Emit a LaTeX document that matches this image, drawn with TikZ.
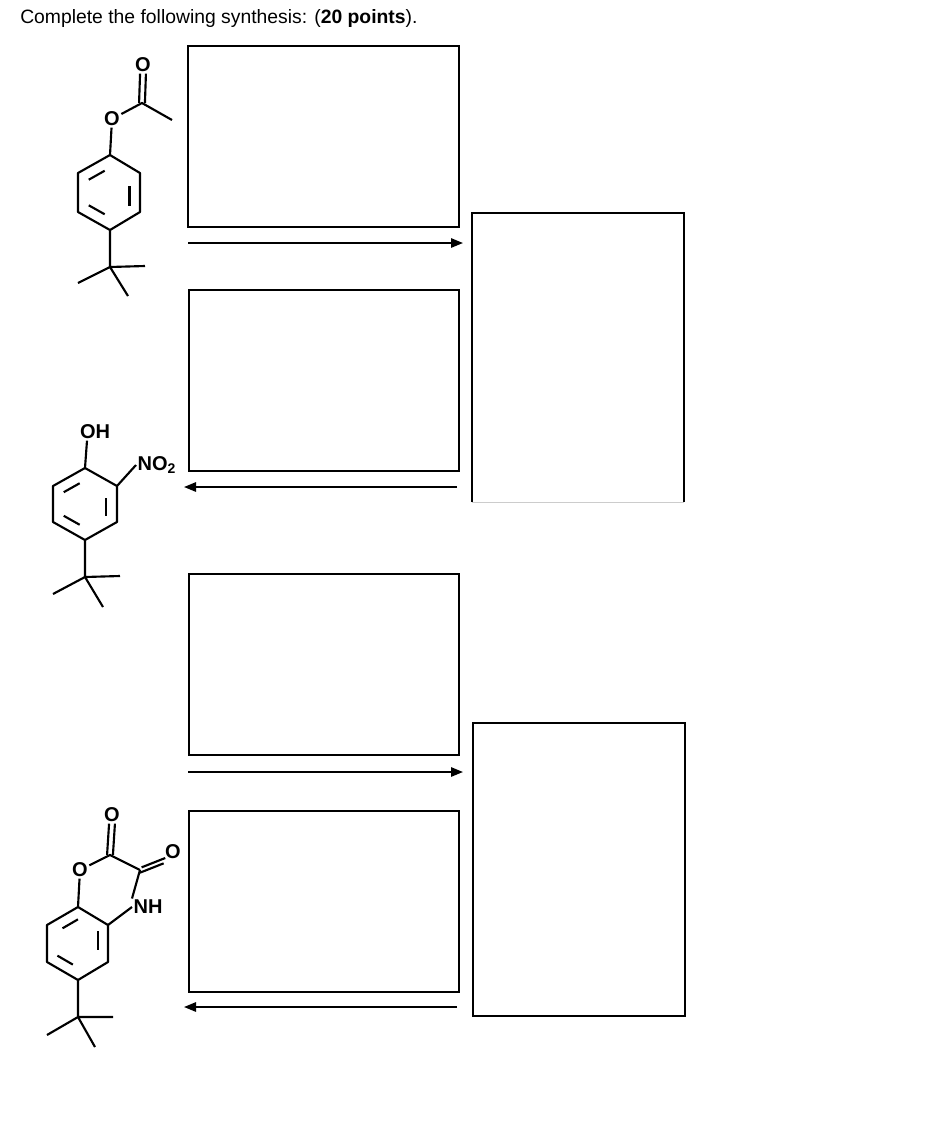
\documentclass[tikz,border=0pt]{standalone}
\usepackage{fontspec}
\setmainfont{Liberation Sans}
\usetikzlibrary{arrows.meta,calc}
\begin{document}
\begin{tikzpicture}[x=0.75pt,y=-0.75pt,
  bond/.style={line width=1.6pt},
  atom/.style={font=\bfseries\fontsize{15}{15}\selectfont,inner sep=1pt},
  box/.style={draw,line width=1.4pt},
  rxn/.style={line width=1.4pt,-{Triangle[length=9pt,width=7pt]}}]
\useasboundingbox (0,0) rectangle (937,1147);
\node[anchor=west,font=\fontsize{14.5}{16}\selectfont,inner sep=0] (title) at (20,18) {Complete the following synthesis: (\textbf{20 points}).};
% boxes and arrows
\node[box,minimum width=271*0.75pt,minimum height=181*0.75pt,anchor=north west] (b1) at (187,45) {};
\coordinate (a1s) at (188,243); \coordinate (a1e) at (463,243);
\draw[rxn] (a1s) -- (a1e);
\node[box,minimum width=270*0.75pt,minimum height=181*0.75pt,anchor=north west] (b2) at (188,289) {};
\coordinate (a2s) at (457,487); \coordinate (a2e) at (184,487);
\draw[rxn] (a2s) -- (a2e);
\coordinate (r1a) at (472,502); \coordinate (r1b) at (472,213); \coordinate (r1c) at (684,213); \coordinate (r1d) at (684,502);
\draw[line width=1.4pt] (r1a) -- (r1b) -- (r1c) -- (r1d);
\draw[line width=0.6pt,gray!40] (r1a) -- (r1d);
\node[box,minimum width=270*0.75pt,minimum height=181*0.75pt,anchor=north west] (b3) at (188,573) {};
\coordinate (a3s) at (188,772); \coordinate (a3e) at (463,772);
\draw[rxn] (a3s) -- (a3e);
\node[box,minimum width=270*0.75pt,minimum height=181*0.75pt,anchor=north west] (b4) at (188,810) {};
\coordinate (a4s) at (457,1007); \coordinate (a4e) at (184,1007);
\draw[rxn] (a4s) -- (a4e);
\node[box,minimum width=212*0.75pt,minimum height=293*0.75pt,anchor=north west] (r2) at (472,722) {};
% molecule 1
\node[atom] (o1) at (143,65) {O};
\node[atom] (o2) at (112,119) {O};
\coordinate (c1) at (142,103); \coordinate (me1) at (172,120);
\draw[bond] ([xshift=-2.2pt]o1.south) -- ([xshift=-2.2pt]c1);
\draw[bond] ([xshift=2.2pt]o1.south) -- ([xshift=2.2pt]c1);
\draw[bond] (o2) -- (c1) -- (me1);
\coordinate (p1) at (110,155); \coordinate (p2) at (140,173); \coordinate (p3) at (140,212);
\coordinate (p4) at (110,230); \coordinate (p5) at (78,212); \coordinate (p6) at (78,173);
\draw[bond] (o2) -- (p1);
\draw[bond,line join=round] (p1)--(p2)--(p3)--(p4)--(p5)--(p6)--cycle;
\coordinate (tb1) at (110,267); \coordinate (tr1) at (145,266); \coordinate (tl1) at (78,283); \coordinate (td1) at (128,296);
\draw[bond] (p4)--(tb1) (tb1)--(tr1) (tb1)--(tl1) (tb1)--(td1);
% molecule 2
\node[atom] (oh) at (95,432) {OH};
\node[atom,anchor=west] (no2) at (136,465) {NO\textsubscript{2}};
\coordinate (q1) at (85,468); \coordinate (q2) at (117,486); \coordinate (q3) at (117,522);
\coordinate (q4) at (85,540); \coordinate (q5) at (53,522); \coordinate (q6) at (53,486);
\draw[bond] ([xshift=-6pt]oh.south) -- (q1);
\draw[bond] (q2) -- (no2.west);
\draw[bond,line join=round] (q1)--(q2)--(q3)--(q4)--(q5)--(q6)--cycle;
\coordinate (tb2) at (85,577); \coordinate (tr2) at (120,576); \coordinate (tl2) at (53,594); \coordinate (td2) at (103,607);
\draw[bond] (q4)--(tb2) (tb2)--(tr2) (tb2)--(tl2) (tb2)--(td2);
% molecule 3
\node[atom] (o3) at (112,815) {O};
\node[atom] (o4) at (80,870) {O};
\node[atom] (o5) at (173,852) {O};
\node[atom,anchor=west] (nh) at (132,907) {NH};
\coordinate (k1) at (110,855); \coordinate (k2) at (140,870);
\draw[bond] ([xshift=-2.2pt]o3.south) -- ([xshift=-2.2pt]k1);
\draw[bond] ([xshift=2.2pt]o3.south) -- ([xshift=2.2pt]k1);
\draw[bond] (o4) -- (k1) -- (k2);
\draw[bond] ([yshift=-2pt]k2) -- ([yshift=-2pt]o5.south west);
\draw[bond] ([shift={(1.2pt,2pt)}]k2) -- ([shift={(1.2pt,2pt)}]o5.south west);
\draw[bond] (k2) -- (nh.north west);
\coordinate (s1) at (78,907); \coordinate (s2) at (108,925); \coordinate (s3) at (108,962);
\coordinate (s4) at (78,980); \coordinate (s5) at (47,962); \coordinate (s6) at (47,925);
\draw[bond] (o4) -- (s1);
\draw[bond] (s2) -- (nh.west);
\draw[bond,line join=round] (s1)--(s2)--(s3)--(s4)--(s5)--(s6)--cycle;
\coordinate (tb3) at (78,1017); \coordinate (tr3) at (113,1017); \coordinate (tl3) at (47,1035); \coordinate (td3) at (95,1047);
\draw[bond] (s4)--(tb3) (tb3)--(tr3) (tb3)--(tl3) (tb3)--(td3);
% inner double bonds
\foreach \a/\b/\c in {p1/p6/p4, p2/p3/p5, p4/p5/p1, q1/q6/q4, q2/q3/q5, q4/q5/q1, s1/s6/s3, s2/s3/s6, s4/s5/s1}{
  \draw[bond] ($(\a)!0.2!(\b)!0.17!(\c)$) -- ($(\b)!0.2!(\a)!0.17!(\c)$);
}
\end{tikzpicture}
\end{document}
